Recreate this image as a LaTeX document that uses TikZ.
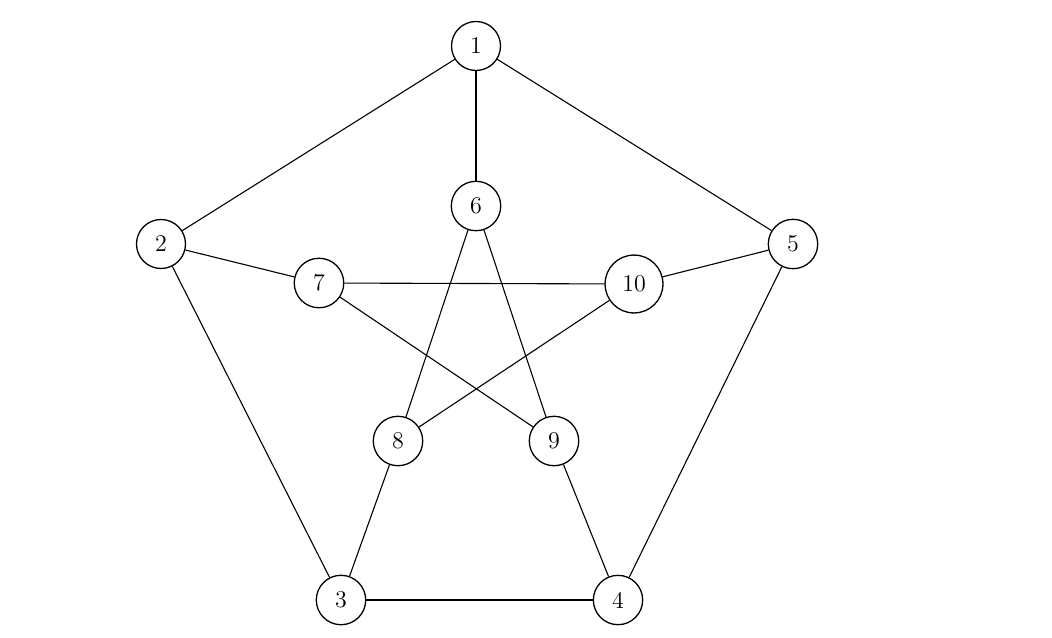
\documentclass[tikz,border=0pt]{standalone}
\begin{document}
\begin{tikzpicture}[x=0.5pt,y=-0.5pt,
  vtx/.style={circle,draw,line width=0.65pt,inner sep=5.2pt,font=\fontsize{12}{14}\selectfont,fill=white},
  edge/.style={line width=0.55pt}]
\useasboundingbox (0,0) rectangle (1052,637);
\node[vtx] (n1) at (476,46) {1};
\node[vtx] (n2) at (161,244) {2};
\node[vtx] (n3) at (341,600) {3};
\node[vtx] (n4) at (618,600) {4};
\node[vtx] (n5) at (793,244) {5};
\node[vtx] (n6) at (476,206) {6};
\node[vtx] (n7) at (319,283) {7};
\node[vtx] (n8) at (398,441) {8};
\node[vtx] (n9) at (554,441) {9};
\node[vtx] (n10) at (634,284) {10};
\draw[edge] (n1) -- (n2);
\draw[edge] (n1) -- (n5);
\draw[edge] (n1) -- (n6);
\draw[edge] (n2) -- (n7);
\draw[edge] (n2) -- (n3);
\draw[edge] (n5) -- (n10);
\draw[edge] (n5) -- (n4);
\draw[edge] (n3) -- (n4);
\draw[edge] (n3) -- (n8);
\draw[edge] (n4) -- (n9);
\draw[edge] (n6) -- (n8);
\draw[edge] (n6) -- (n9);
\draw[edge] (n7) -- (n10);
\draw[edge] (n7) -- (n9);
\draw[edge] (n8) -- (n10);
\end{tikzpicture}
\end{document}
